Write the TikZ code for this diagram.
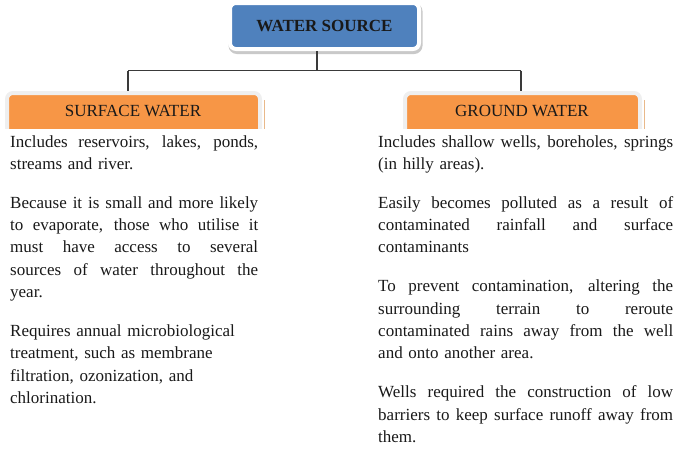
\documentclass[tikz,border=0pt]{standalone}
\usepackage{fontspec}
\setmainfont{Liberation Serif}
\definecolor{wsblue}{HTML}{4F81BD}
\definecolor{hdorange}{HTML}{F79646}
\definecolor{rimgray}{HTML}{EFEFEF}
\definecolor{shadegray}{HTML}{C9C9C9}
\definecolor{tanline}{HTML}{E9B98A}
\definecolor{linkgray}{HTML}{3A3A3A}
\newcommand{\jline}[1]{\leavevmode\hbox to \hsize{\spaceskip=0.25em plus 1fil\relax\xspaceskip=0pt\relax #1}}
\tikzset{
  x=1pt, y=1pt,
  titlebox/.style={rounded corners=6pt, fill=wsblue, draw=white, line width=4pt,
    minimum width=189pt, minimum height=46pt, inner sep=0pt,
    font=\fontsize{17}{20}\selectfont\bfseries, text=black!90,
    preaction={draw=shadegray, fill=shadegray, line width=5pt, transform canvas={xshift=1pt,yshift=-2.5pt}}},
  headbox/.style={rounded corners=6pt, fill=hdorange, draw=rimgray, line width=4pt,
    minimum height=60pt, inner sep=0pt, anchor=north},
  headtext/.style={font=\fontsize{17}{20}\selectfont, text=black!90},
  bodytext/.style={anchor=base west, inner sep=0pt, align=left,
    font=\fontsize{17}{22.3}\selectfont, text=black!90},
  link/.style={draw=linkgray, line width=1.3pt},
  rimshade/.style={draw=tanline, line width=1.2pt}
}
\begin{document}
\begin{tikzpicture}
\useasboundingbox (0,0) rectangle (685,-453);
% title
\node[titlebox] (ws) at (324.5,-26) {WATER SOURCE};
% headers (cut at the bottom)
\begin{scope}
\clip (0,0) rectangle (685,-128);
\node[headbox, minimum width=253pt] (sw) at (133.5,-91) {};
\node[headbox, minimum width=235pt] (gw) at (522.5,-91) {};
\draw[rimshade] ([xshift=2.6pt,yshift=-9pt]sw.north east) -- ([xshift=2.6pt]sw.south east);
\draw[rimshade] ([xshift=2.6pt,yshift=-9pt]gw.north east) -- ([xshift=2.6pt]gw.south east);
\end{scope}
\node[headtext] (swt) at (133,-110.5) {SURFACE WATER};
\node[headtext] (gwt) at (522,-110.5) {GROUND WATER};
% connectors
\coordinate (j) at (317,-70.5);
\coordinate (jl) at (128,-70.5);
\coordinate (jr) at (521,-70.5);
\draw[link] (ws.south -| j) -- (j);
\draw[link] (jl) -- (jr);
\draw[link] (jl) -- (jl |- sw.north);
\draw[link] (jr) -- (jr |- gw.north);
% left column
\node[bodytext, text width=248pt] (l1) at (10,-147) {%
\jline{Includes reservoirs, lakes, ponds,}\\
streams and river.};
\node[bodytext, text width=248pt] (l2) at (10,-208.3) {%
\jline{Because it is small and more likely}\\
\jline{to evaporate, those who utilise it}\\
\jline{must have access to several}\\
\jline{sources of water throughout the}\\
year.};
\node[bodytext, text width=248pt] (l3) at (10,-336.5) {%
Requires annual microbiological\\
treatment, such as membrane\\
filtration, ozonization, and\\
chlorination.};
% right column
\node[bodytext, text width=295pt] (r1) at (378,-147) {%
\jline{Includes shallow wells, boreholes, springs}\\
(in hilly areas).};
\node[bodytext, text width=295pt] (r2) at (378,-208.3) {%
\jline{Easily becomes polluted as a result of}\\
\jline{contaminated rainfall and surface}\\
contaminants};
\node[bodytext, text width=295pt] (r3) at (378,-291.9) {%
\jline{To prevent contamination, altering the}\\
\jline{surrounding terrain to reroute}\\
\jline{contaminated rains away from the well}\\
and onto another area.};
\node[bodytext, text width=295pt] (r4) at (378,-397.8) {%
\jline{Wells required the construction of low}\\
\jline{barriers to keep surface runoff away from}\\
them.};
\end{tikzpicture}
\end{document}
